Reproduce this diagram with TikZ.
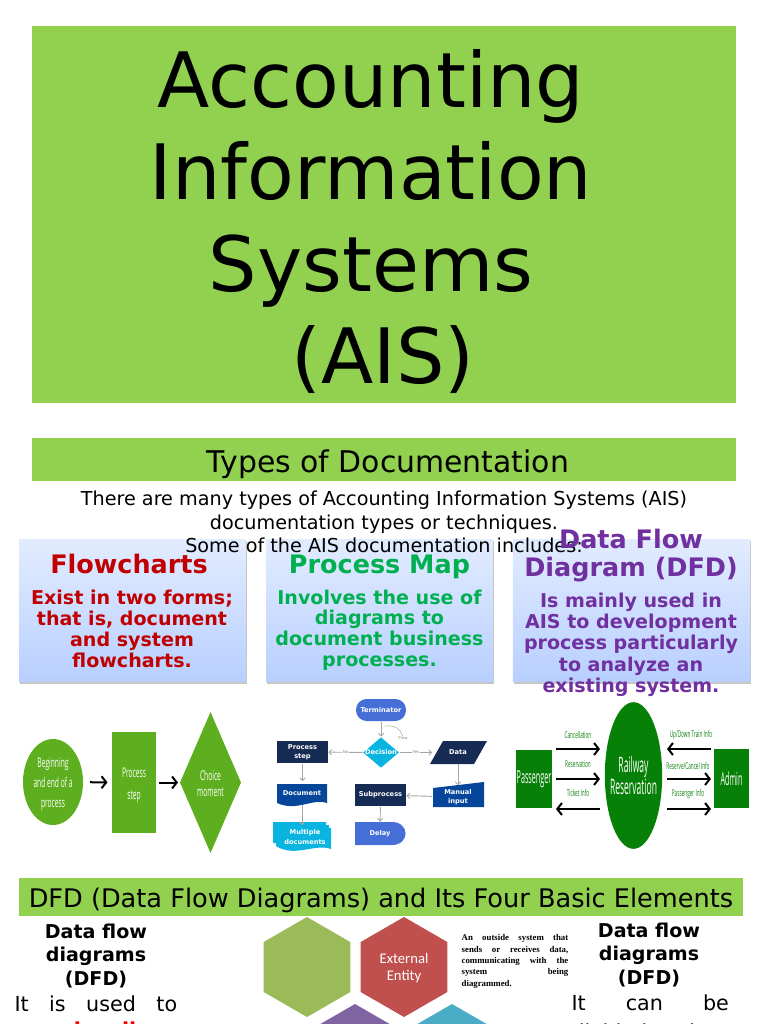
\documentclass[tikz,border=0pt]{standalone}
\usepackage{fontspec}
\usepackage{tikz}
\usepackage{xcolor}
\usetikzlibrary{shapes.geometric,shadows,arrows.meta}
\setmainfont{DejaVu Sans}
\newfontfamily\carlitofont{Carlito}
\newfontfamily\serifont{Liberation Serif}
\newfontfamily\narrowfont[FakeStretch=0.5]{Open Sans}
\newfontfamily\railfont[FakeStretch=0.4]{Open Sans}
\definecolor{bannergreen}{RGB}{146,208,80}
\definecolor{cardtop}{RGB}{226,236,255}
\definecolor{cardbottom}{RGB}{184,207,255}
\definecolor{flowgreen}{RGB}{94,175,31}
\definecolor{railgreen}{RGB}{7,128,7}
\definecolor{mapnavy}{RGB}{22,43,84}
\definecolor{mapblue}{RGB}{5,70,155}
\definecolor{mapsky}{RGB}{10,180,225}
\definecolor{mapperi}{RGB}{70,110,215}
\definecolor{cardred}{RGB}{192,0,0}
\definecolor{cardgreen}{RGB}{0,176,80}
\definecolor{dfdpurple}{RGB}{112,48,160}
\definecolor{hexolive}{RGB}{155,187,89}
\definecolor{hexred}{RGB}{192,80,77}
\definecolor{hexviolet}{RGB}{128,100,162}
\definecolor{hexteal}{RGB}{75,172,198}
\tikzset{every picture/.style={line width=0.75pt}}
\tikzset{
  banner/.style={fill=bannergreen,draw=none,inner sep=0pt,minimum height=#1},
  card/.style={top color=cardtop,bottom color=cardbottom,draw=none,inner sep=0pt,
    minimum width=170pt,minimum height=107pt,drop shadow={shadow xshift=0.8pt,shadow yshift=-1.5pt,opacity=0.45}},
  cardtext/.style={align=center,font=\fontsize{14.3}{15.6}\selectfont\bfseries,text=#1},
  cardhead/.style={align=center,font=\fontsize{19.1}{21}\selectfont\bfseries,text=#1},
  flowshape/.style={fill=flowgreen,inner sep=0pt},
  flowtext/.style={text=white,align=center,inner sep=0pt,font=\narrowfont\fontsize{10}{#1}\selectfont},
  railshape/.style={fill=railgreen,inner sep=0pt},
  railtext/.style={text=white,align=center,inner sep=0pt,font=\railfont\fontsize{#1}{17}\selectfont},
  blackarrow/.style={-{Straight Barb[length=3.5pt,width=9pt]},line width=1.5pt},
  graylink/.style={-{Straight Barb[length=2pt,width=4pt]},draw=gray!70,line width=0.7pt},
  maplabel/.style={text=white,align=center,inner sep=0pt,font=\fontsize{5}{7}\selectfont\bfseries},
  mapbox/.style={maplabel,minimum width=38pt,minimum height=17pt},
  linkword/.style={fill=white,inner sep=0.5pt,text=gray,font=\fontsize{3}{4}\selectfont},
  raillabel/.style={text=railgreen,inner sep=0pt,font=\narrowfont\fontsize{7}{8}\selectfont},
  hexcell/.style={regular polygon,regular polygon sides=6,minimum size=75pt,inner sep=0pt},
  dfdhead/.style={align=center,font=\fontsize{14.3}{17.3}\selectfont\bfseries},
  bodyline/.style={font=\fontsize{15.5}{18}\selectfont,inner sep=0pt}
}

\begin{document}
\begin{tikzpicture}[x=0.75pt,y=0.75pt,yscale=-1,xscale=1]
\useasboundingbox (0,0) rectangle (768,1024);
\clip (0,0) rectangle (768,1024);

%Banners
\node [banner=283pt,minimum width=528pt] (titlebar) at (384,214.5) {};
\node [banner=32.5pt,minimum width=528pt] (typesbar) at (384,459.5) {};
\node [banner=28.5pt,minimum width=543pt] (dfdbar) at (381,896.5) {};

%Banner text
\node [align=center,font=\fontsize{57.3}{69}\selectfont] (title) at (371,222) {Accounting\\Information\\Systems\\\hspace*{18pt}(AIS)};
\node [font=\fontsize{22.4}{26}\selectfont] (types) at (388,464) {Types of Documentation};
\node [font=\fontsize{19.2}{23}\selectfont] (dfdtitle) at (381,900) {DFD (Data Flow Diagrams) and Its Four Basic Elements};

%Cards
\node [card] (flowcard) at (132.5,610.5) {};
\node [card] (mapcard) at (379.5,610.5) {};
\node [card,minimum width=178pt] (dfdcard) at (631.5,610.5) {};

% Intro text
\node [align=center,font=\fontsize{14.4}{17.5}\selectfont] (intro) at (384,522) {There are many types of Accounting Information Systems (AIS)\\documentation types or techniques.\\Some of the AIS documentation includes:};

% Card text
\node [cardhead=cardred] (flowhead) at (129,564) {Flowcharts};
\node [cardtext=cardred] (flowbody) at (132,629) {Exist in two forms;\\that is, document\\and system\\flowcharts.};
\node [cardhead=cardgreen] (maphead) at (379.5,567) {Process Map};
\node [cardtext=cardgreen] (mapbody) at (379.5,630) {Involves the use of\\diagrams to\\document business\\processes.};
\node [cardhead=dfdpurple] (dfdhead) at (631,555.5) {Data Flow\\Diagram (DFD)};
\node [cardtext=dfdpurple,font=\fontsize{14.3}{16}\selectfont\bfseries] (dfdbody) at (631,644.5) {Is mainly used in\\AIS to development\\process particularly\\to analyze an\\existing system.};

%Flowchart sample
\node [flowshape,ellipse,minimum width=45pt,minimum height=64.5pt,label={[flowtext=15,yshift=-2pt]center:Beginning\\and end of a\\process}] (begin) at (53,782) {};
\node [flowshape,minimum width=33pt,minimum height=76pt,label={[flowtext=16,yshift=-2pt]center:Process\\step}] (process) at (134,782.5) {};
\node [flowshape,diamond,aspect=0.43,minimum width=46pt,minimum height=106pt,label={[flowtext=12,yshift=-1pt]center:Choice\\moment}] (choice) at (210.5,782.5) {};
\draw [blackarrow,shorten <=5pt,shorten >=3pt] (begin) -- (process);
\draw [blackarrow,shorten <=2pt,shorten >=1pt] (process) -- (choice);

%Process map sample
\fill [mapnavy] (443,741) -- (487,741) -- (474,764) -- (430,764) -- cycle;
\fill [mapblue] (277,784) -- (327,784) -- (327,803) .. controls (312,798) and (297,812) .. (277,803) -- cycle;
\fill [mapblue] (433,788) -- (484,782) -- (484,807) -- (433,807) -- cycle;
\fill [mapsky] (273,822) -- (326,822) -- (326,825) -- (329,825) -- (329,828) -- (331,828) -- (331,849) .. controls (315,843) and (295,858) .. (276,846) -- (276,843) -- (273,843) -- cycle;
\fill [mapperi] (355,822) -- (392,822) .. controls (410,822) and (410,845) .. (392,845) -- (355,845) -- cycle;
\node [maplabel,fill=mapperi,rounded corners=8pt,minimum width=37.5pt,minimum height=16.5pt] (term) at (381,710) {Terminator};
\node [fill=mapsky,diamond,aspect=1.16,inner sep=0pt,minimum width=27pt,minimum height=23pt,label={[maplabel]center:Decision}] (decision) at (381,752.5) {};
\node [mapbox,fill=mapnavy] (pstep) at (302.5,752) {Process\\step};
\node [mapbox] (data) at (458,752.5) {Data};
\node [mapbox] (document) at (302,793) {Document};
\node [mapbox,fill=mapnavy] (subproc) at (380.5,795) {Subprocess};
\node [mapbox] (manual) at (458,797) {Manual\\input};
\node [mapbox] (multi) at (305,837) {Multiple\\documents};
\node [mapbox] (delay) at (380,833.5) {Delay};
\node [inner sep=0pt,text=gray,font=\fontsize{3}{4}\selectfont] (flowword) at (403,738) {Flow};
\coordinate (flowstart) at (385,726);
\draw [gray!70,line width=0.4pt] (flowstart) .. controls (395,725) and (401,729) .. (flowword);
\draw [graylink] (term) -- (decision);
\draw [graylink] (decision) -- node [linkword] {No} (pstep);
\draw [graylink] (decision) -- node [linkword] {Yes} (data);
\draw [graylink] (pstep) -- (pstep |- document.north);
\draw [graylink] (document) -- (document |- multi.north);
\draw [graylink] (data) -- (manual);
\draw [graylink] (manual) -- (subproc);
\draw [graylink] (subproc) -- (delay);

%Railway sample
\node [railshape,minimum width=27pt,minimum height=43.5pt,label={[railtext=13.5]center:Passenger}] (passenger) at (534,779) {};
\node [railshape,minimum width=26pt,minimum height=44pt,label={[railtext=13.5]center:Admin}] (admin) at (731.5,778.5) {};
\node [railshape,ellipse,minimum width=43pt,minimum height=110pt,label={[railtext=16]center:Railway\\Reservation}] (railway) at (633.5,775.5) {};
\coordinate (pa) at (556,749); \coordinate (ra) at (600,749);
\coordinate (pb) at (556,779); \coordinate (rb) at (600,779);
\coordinate (pc) at (556,809); \coordinate (rc) at (600,809);
\coordinate (qa) at (667,749); \coordinate (aa) at (711,749);
\coordinate (qb) at (667,779); \coordinate (ab) at (711,779);
\coordinate (qc) at (667,809); \coordinate (ac) at (711,809);
\draw [blackarrow] (pa) -- (ra);
\draw [blackarrow] (pb) -- (rb);
\draw [blackarrow] (rc) -- (pc);
\draw [blackarrow] (aa) -- (qa);
\draw [blackarrow] (qb) -- (ab);
\draw [blackarrow] (qc) -- (ac);
\node [raillabel] (cancel) at (578,735) {Cancellation};
\node [raillabel] (reserve) at (578,764) {Reservation};
\node [raillabel] (ticket) at (578,793) {Ticket Info};
\node [raillabel] (updown) at (691,735) {Up/Down Train Info};
\node [raillabel] (rcinfo) at (688,766) {Reserve/Cancel Info};
\node [raillabel] (painfo) at (688,794) {Passenger Info};

%Hexagons
\node [hexcell,rotate=30,fill=hexolive] (hexa) at (307,967) {};
\node [hexcell,rotate=30,fill=hexred] (hexb) at (404,967) {};
\node [hexcell,rotate=30,fill=hexviolet] (hexc) at (355,1054) {};
\node [hexcell,rotate=30,fill=hexteal] (hexd) at (452,1054) {};
\node [text=white,align=center,font=\carlitofont\fontsize{11}{12.75}\selectfont] (hexbtext) at (404,968.5) {External\\Entity};

%Side text
\node [align=justify,text width=80pt,inner sep=0pt,font=\serifont\fontsize{6.6}{8.5}\selectfont\bfseries] (outside) at (515,961.5) {An outside system that\linebreak sends or receives data,\linebreak communicating with the\linebreak system being\linebreak diagrammed.};
\node [dfdhead] (dfdleft) at (96,956) {Data flow\\diagrams\\(DFD)};
\node [dfdhead] (dfdright) at (649,955) {Data flow\\diagrams\\(DFD)};
\node [bodyline,anchor=west,text width=122pt] (usedto) at (14,1003.5) {It\hfill is\hfill used\hfill to};
\node [bodyline,anchor=west,text width=118pt] (canbe) at (571,1003) {It\hfill can\hfill be};
\node [bodyline,anchor=west,text=red,font=\fontsize{15.5}{18}\selectfont\bfseries] (redword) at (60,1032) {visually};
\node [bodyline,anchor=west,text width=118pt] (divided) at (571,1032) {divided\hfill into};

\end{tikzpicture}
\end{document}
